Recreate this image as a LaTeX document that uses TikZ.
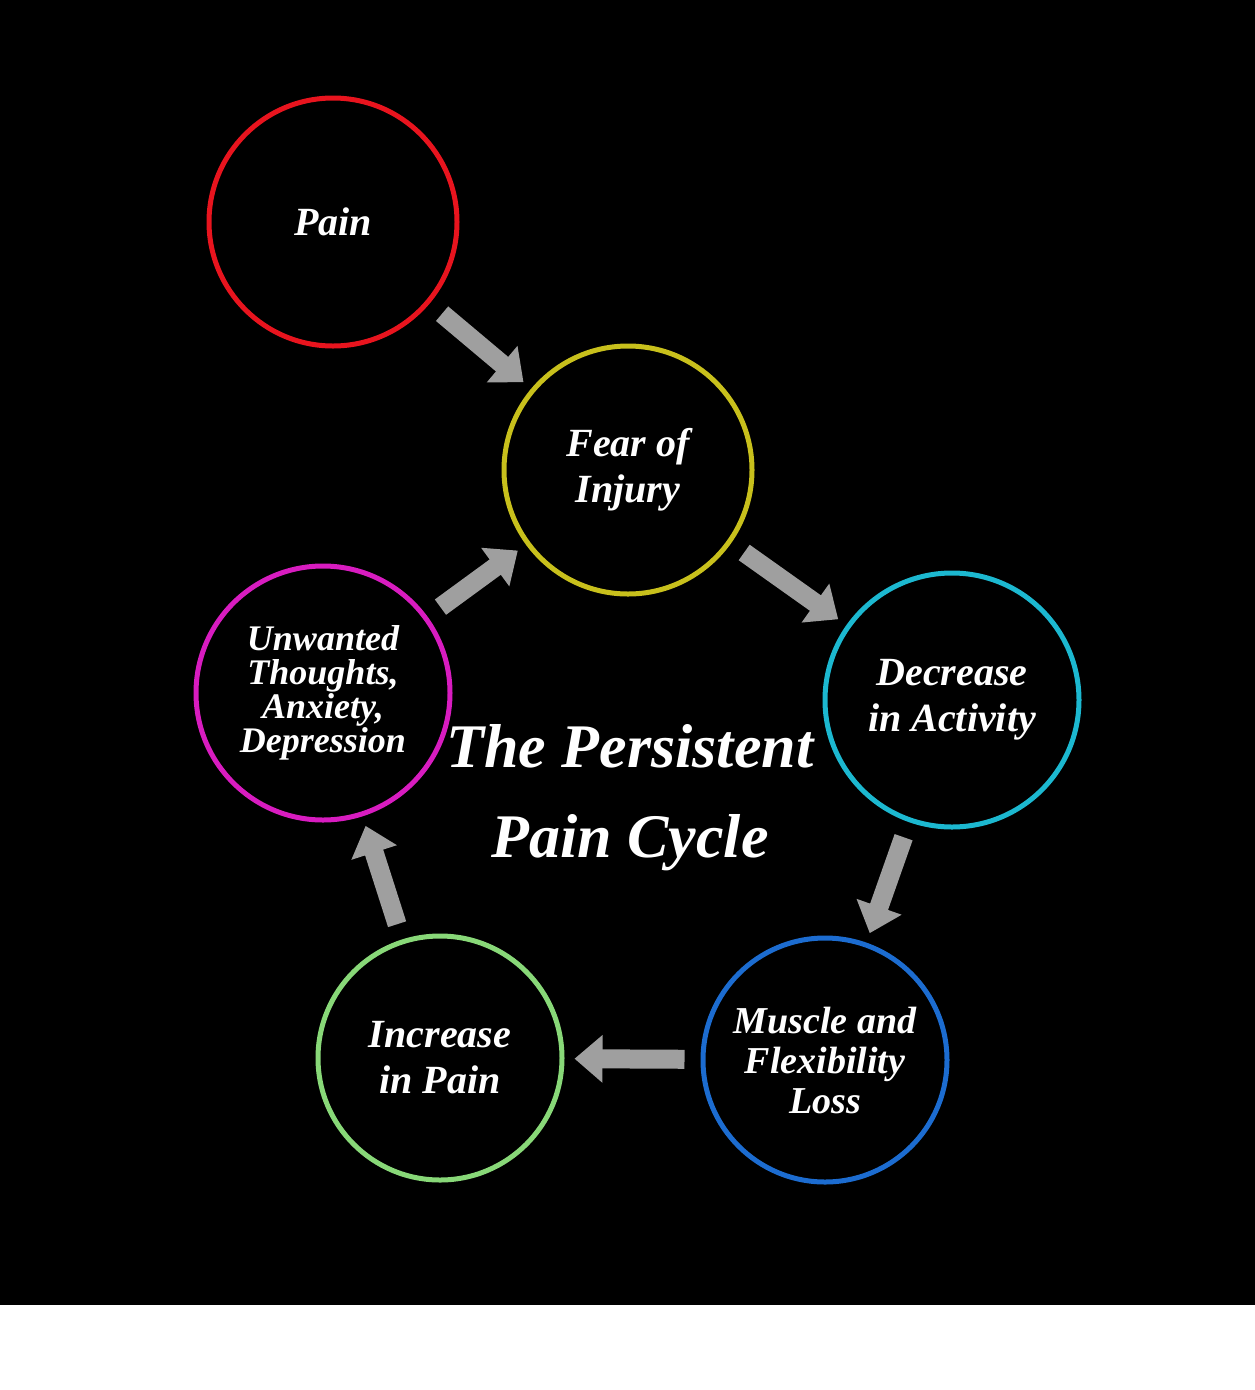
\documentclass[tikz,border=0pt]{standalone}
\usepackage{fontspec}
\setmainfont{Liberation Serif}
\usetikzlibrary{arrows.meta}
\begin{document}
\begin{tikzpicture}[x=1pt,y=-1pt,
  cyc/.style={circle,draw=#1,line width=5pt,minimum size=248pt,inner sep=0pt,text=white,align=center,font=\fontsize{40}{46}\selectfont\bfseries\itshape},
  arr/.style={draw=gray!75,line width=19pt,-{Triangle[length=28pt,width=46pt]},shorten <=16pt,shorten >=10pt}]
\useasboundingbox (0,0) rectangle (1255,1390);
\fill[black] (0,0) rectangle (1255,1305);
\fill[white] (0,1305) rectangle (1255,1390);
\definecolor{cred}{HTML}{E8141E}
\definecolor{cyel}{HTML}{C8C01C}
\definecolor{ccyan}{HTML}{1CB8D0}
\definecolor{cblue}{HTML}{1C6CD0}
\definecolor{cgreen}{HTML}{88D878}
\definecolor{cmag}{HTML}{D81CC0}
\node[cyc=cred] (pain) at (333,222) {Pain};
\node[cyc=cyel] (fear) at (628,470) {Fear of\\Injury};
\node[cyc=ccyan,minimum size=254pt] (dec) at (952,700) {Decrease\\in Activity};
\node[cyc=cblue,minimum size=244pt,font=\fontsize{38}{40}\selectfont\bfseries\itshape] (mus) at (825,1060) {Muscle and\\Flexibility\\Loss};
\node[cyc=cgreen,minimum size=244pt] (inc) at (440,1058) {Increase\\in Pain};
\node[cyc=cmag,minimum size=254pt,font=\fontsize{36}{34}\selectfont\bfseries\itshape] (unw) at (323,693) {Unwanted\\Thoughts,\\Anxiety,\\Depression};
\node[text=white,align=center,font=\fontsize{62}{90}\selectfont\bfseries\itshape] (title) at (630,798) {The Persistent\\Pain Cycle};
\draw[arr] (pain) -- (fear);
\draw[arr] (fear) -- (dec);
\draw[arr] (dec) -- (mus);
\draw[arr] (mus) -- (inc);
\draw[arr] (inc) -- (unw);
\draw[arr] (unw) -- (fear);
\end{tikzpicture}
\end{document}
